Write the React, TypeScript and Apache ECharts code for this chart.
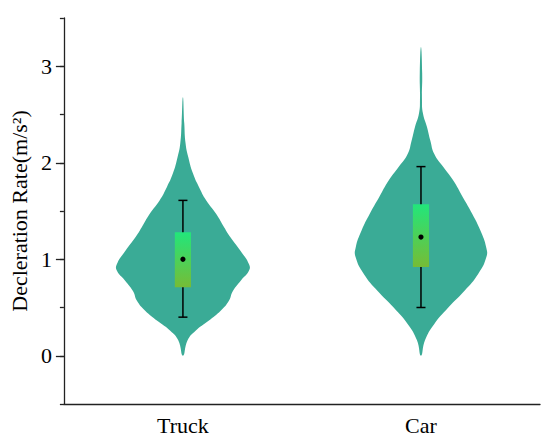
import { useEffect, useRef } from 'react';
import * as echarts from 'echarts';

const categories = ['Truck', 'Car'];

// violin outlines: y levels and relative half-width (1 = widest)
const truckLevels = [0.0, 0.16, 0.26, 0.36, 0.47, 0.57, 0.67, 0.78, 0.88, 0.95, 1.09, 1.23, 1.33, 1.47, 1.61, 1.75, 1.89, 2.06, 2.2, 2.41, 2.68];
const truckDensity = [0, 0.07, 0.19, 0.38, 0.57, 0.69, 0.75, 0.87, 0.99, 0.99, 0.86, 0.71, 0.62, 0.5, 0.35, 0.24, 0.15, 0.08, 0.04, 0.02, 0];
const carLevels = [0.0, 0.16, 0.33, 0.5, 0.67, 0.85, 1.02, 1.12, 1.3, 1.47, 1.64, 1.82, 1.96, 2.09, 2.23, 2.37, 2.51, 2.65, 2.93, 3.2];
const carDensity = [0, 0.06, 0.2, 0.41, 0.65, 0.86, 0.98, 0.98, 0.89, 0.77, 0.63, 0.48, 0.33, 0.2, 0.14, 0.09, 0.03, 0.015, 0.018, 0];

const whiskerLow = [0.4, 0.5];
const q1 = [0.71, 0.92];
const q3 = [1.28, 1.57];
const whiskerHigh = [1.61, 1.96];
const means = [1.0, 1.23];

const majorTicks = [0, 1, 2, 3];

const levels = [truckLevels, carLevels];
const density = [truckDensity, carDensity];

const FONT = '"Times New Roman", "Liberation Serif", serif';

export default function App() {
  const chartRef = useRef<HTMLDivElement>(null);

  useEffect(() => {
    if (!chartRef.current) return;
    const chart = echarts.init(chartRef.current, undefined, { renderer: 'svg' });

    const renderItem = (params: any, api: any) => {
      const i = params.dataIndex;
      const c = api.value(0);
      const band = api.size([1, 0])[0];
      const cx = api.coord([c, 0])[0];
      const lv = levels[i];
      const dn = density[i];

      const left: number[][] = [];
      const right: number[][] = [];
      for (let k = 0; k < lv.length; k++) {
        const y = api.coord([c, lv[k]])[1];
        const hw = dn[k] * band * 0.28;
        left.push([cx - hw, y]);
        right.unshift([cx + hw, y]);
      }
      const pts = left.concat(right.slice(1, right.length - 1));

      const yLow = api.coord([c, whiskerLow[i]])[1];
      const yHigh = api.coord([c, whiskerHigh[i]])[1];
      const yQ1 = api.coord([c, q1[i]])[1];
      const yQ3 = api.coord([c, q3[i]])[1];
      const yMean = api.coord([c, means[i]])[1];
      const boxHalf = band * 0.034;
      const capHalf = band * 0.019;
      const lineStyle = { stroke: '#000', lineWidth: 1.5 };

      return {
        type: 'group',
        children: [
          { type: 'polygon', shape: { points: pts, smooth: 0.5 }, style: { fill: '#3AAB96' } },
          { type: 'line', shape: { x1: cx, y1: yLow, x2: cx, y2: yHigh }, style: lineStyle },
          { type: 'line', shape: { x1: cx - capHalf, y1: yLow, x2: cx + capHalf, y2: yLow }, style: lineStyle },
          { type: 'line', shape: { x1: cx - capHalf, y1: yHigh, x2: cx + capHalf, y2: yHigh }, style: lineStyle },
          {
            type: 'rect',
            shape: { x: cx - boxHalf, y: yQ3, width: boxHalf * 2, height: yQ1 - yQ3 },
            style: {
              fill: new echarts.graphic.LinearGradient(0, 0, 0, 1, [
                { offset: 0, color: '#22E67B' },
                { offset: 1, color: '#76BC36' },
              ]),
            },
          },
          { type: 'circle', shape: { cx, cy: yMean, r: 2.6 }, style: { fill: '#000' } },
        ],
      };
    };

    const option: any = {
      animation: false,
      backgroundColor: '#fff',
      textStyle: { fontFamily: FONT },
      grid: { left: 61, right: 10, top: 18, bottom: 41 },
      xAxis: {
        type: 'category',
        data: categories,
        axisLine: { onZero: false, lineStyle: { color: '#222', width: 1.3 } },
        axisTick: { alignWithLabel: true, length: 6, lineStyle: { color: '#222', width: 1.3 } },
        axisLabel: { color: '#000', fontSize: 22, fontFamily: FONT, margin: 10 },
        splitLine: { show: false },
      },
      yAxis: [
        {
          type: 'value',
          min: -0.5,
          max: 3.5,
          interval: 0.5,
          name: 'Decleration Rate(m/s²)',
          nameLocation: 'middle',
          nameRotate: 90,
          nameGap: 28,
          nameTextStyle: { color: '#000', fontSize: 22, fontFamily: FONT },
          axisLine: { show: true, lineStyle: { color: '#222', width: 1.3 } },
          axisTick: { show: true, length: 4, lineStyle: { color: '#222', width: 1.3 } },
          axisLabel: {
            color: '#000',
            fontSize: 22,
            fontFamily: FONT,
            margin: 12,
            formatter: (v: number) => (Math.abs(v - Math.round(v)) < 1e-6 ? String(Math.round(v)) : ''),
          },
          splitLine: { show: false },
        },
        {
          type: 'value',
          position: 'left',
          min: -0.5,
          max: 3.5,
          axisLine: { show: false },
          axisTick: { show: true, length: 8, customValues: majorTicks, lineStyle: { color: '#222', width: 1.3 } },
          axisLabel: { show: false },
          splitLine: { show: false },
        },
      ],
      series: [
        {
          type: 'custom',
          renderItem,
          xAxisIndex: 0,
          yAxisIndex: 0,
          encode: { x: 0, y: 1 },
          data: categories.map((_, i) => [i, means[i]]),
        },
      ],
    };

    chart.setOption(option);
    return () => chart.dispose();
  }, []);

  return (
    <div
      ref={chartRef}
      style={{ position: 'fixed', left: 0, top: 0, width: 550, height: 445 }}
    />
  );
}
